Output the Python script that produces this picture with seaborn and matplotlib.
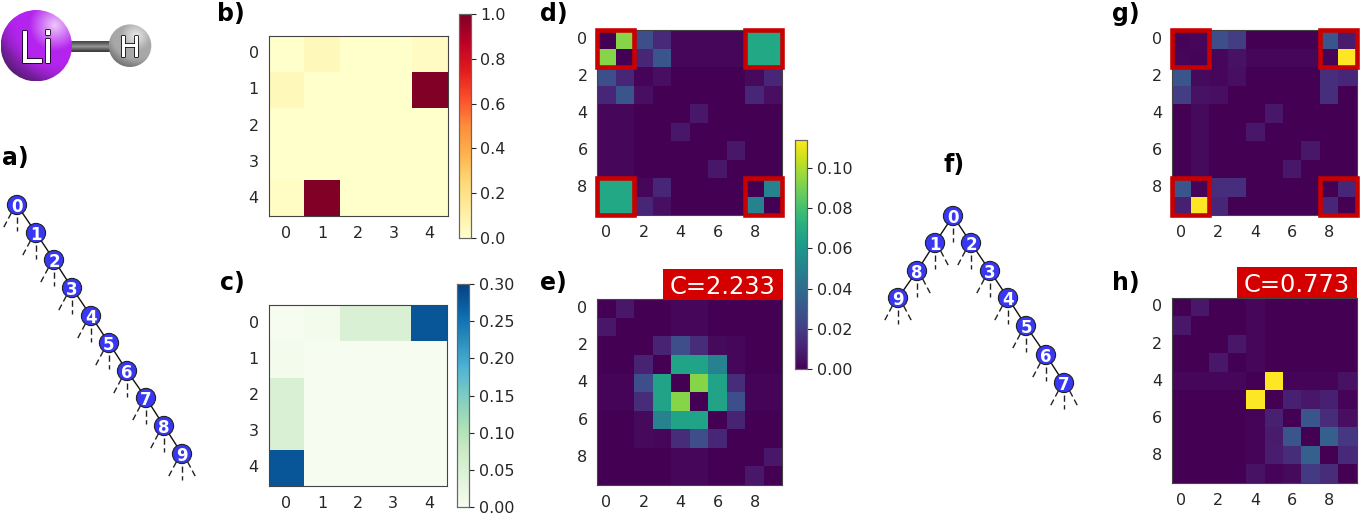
import numpy as np
import matplotlib
matplotlib.use("Agg")
import matplotlib.pyplot as plt
import matplotlib.patheffects as pe
from matplotlib.patches import Circle, Rectangle
import seaborn as sns

W, H = 1365, 525

# panel b / c, 5 orbitals
matrix_b = [
    [0.00, 0.05, 0.00, 0.00, 0.03],
    [0.05, 0.00, 0.00, 0.00, 1.00],
    [0.00, 0.00, 0.00, 0.00, 0.00],
    [0.00, 0.00, 0.00, 0.00, 0.00],
    [0.025, 1.00, 0.00, 0.00, 0.00],
]
matrix_c = [
    [0.000, 0.006, 0.050, 0.050, 0.280],
    [0.006, 0.000, 0.002, 0.002, 0.001],
    [0.050, 0.001, 0.002, 0.002, 0.001],
    [0.050, 0.001, 0.002, 0.002, 0.001],
    [0.280, 0.000, 0.002, 0.002, 0.001],
]

# panels d, e, g, h, 10 orbitals
matrix_d = [
    [0.000, 0.093, 0.027, 0.013, 0.002, 0.002, 0.002, 0.002, 0.068, 0.068],
    [0.093, 0.000, 0.012, 0.030, 0.002, 0.002, 0.002, 0.002, 0.068, 0.068],
    [0.027, 0.012, 0.001, 0.004, 0.000, 0.000, 0.000, 0.000, 0.003, 0.012],
    [0.012, 0.030, 0.004, 0.000, 0.000, 0.000, 0.000, 0.000, 0.012, 0.004],
    [0.002, 0.002, 0.000, 0.000, 0.000, 0.007, 0.000, 0.000, 0.000, 0.000],
    [0.002, 0.002, 0.000, 0.000, 0.007, 0.000, 0.000, 0.000, 0.000, 0.000],
    [0.002, 0.002, 0.000, 0.000, 0.000, 0.000, 0.000, 0.007, 0.000, 0.000],
    [0.002, 0.002, 0.000, 0.000, 0.000, 0.000, 0.007, 0.000, 0.000, 0.000],
    [0.068, 0.068, 0.002, 0.012, 0.000, 0.000, 0.000, 0.000, 0.000, 0.050],
    [0.068, 0.068, 0.012, 0.004, 0.000, 0.000, 0.000, 0.000, 0.050, 0.000],
]
matrix_e = [
    [0.000, 0.007, 0.000, 0.000, 0.002, 0.002, 0.000, 0.000, 0.000, 0.000],
    [0.007, 0.000, 0.000, 0.000, 0.002, 0.002, 0.000, 0.000, 0.000, 0.000],
    [0.000, 0.000, 0.000, 0.011, 0.027, 0.014, 0.003, 0.002, 0.000, 0.000],
    [0.000, 0.000, 0.011, 0.000, 0.066, 0.066, 0.050, 0.002, 0.000, 0.000],
    [0.001, 0.001, 0.027, 0.066, 0.000, 0.093, 0.066, 0.014, 0.001, 0.001],
    [0.001, 0.001, 0.014, 0.066, 0.093, 0.000, 0.066, 0.027, 0.001, 0.001],
    [0.000, 0.000, 0.003, 0.050, 0.066, 0.066, 0.000, 0.011, 0.000, 0.000],
    [0.000, 0.000, 0.003, 0.002, 0.014, 0.027, 0.012, 0.000, 0.000, 0.000],
    [0.000, 0.000, 0.000, 0.000, 0.002, 0.002, 0.000, 0.000, 0.000, 0.007],
    [0.000, 0.000, 0.000, 0.000, 0.002, 0.002, 0.000, 0.000, 0.007, 0.000],
]
matrix_g = [
    [0.001, 0.002, 0.027, 0.020, 0.000, 0.000, 0.000, 0.000, 0.030, 0.008],
    [0.002, 0.001, 0.002, 0.005, 0.002, 0.002, 0.002, 0.002, 0.001, 0.114],
    [0.030, 0.003, 0.002, 0.004, 0.000, 0.000, 0.000, 0.000, 0.015, 0.012],
    [0.020, 0.005, 0.004, 0.000, 0.000, 0.000, 0.000, 0.000, 0.015, 0.000],
    [0.000, 0.003, 0.000, 0.000, 0.000, 0.007, 0.000, 0.000, 0.000, 0.000],
    [0.000, 0.003, 0.000, 0.000, 0.007, 0.000, 0.000, 0.000, 0.000, 0.000],
    [0.000, 0.003, 0.000, 0.000, 0.000, 0.000, 0.000, 0.007, 0.000, 0.000],
    [0.000, 0.003, 0.000, 0.000, 0.000, 0.000, 0.007, 0.000, 0.000, 0.000],
    [0.030, 0.001, 0.015, 0.015, 0.000, 0.000, 0.000, 0.000, 0.000, 0.012],
    [0.010, 0.114, 0.012, 0.000, 0.000, 0.000, 0.000, 0.000, 0.012, 0.000],
]
matrix_h = [
    [0.000, 0.007, 0.000, 0.000, 0.002, 0.000, 0.000, 0.000, 0.000, 0.000],
    [0.007, 0.000, 0.000, 0.000, 0.002, 0.000, 0.000, 0.000, 0.000, 0.000],
    [0.000, 0.000, 0.000, 0.007, 0.002, 0.000, 0.000, 0.000, 0.000, 0.000],
    [0.000, 0.000, 0.007, 0.000, 0.002, 0.000, 0.000, 0.000, 0.000, 0.000],
    [0.002, 0.002, 0.002, 0.002, 0.000, 0.114, 0.001, 0.001, 0.001, 0.005],
    [0.000, 0.000, 0.000, 0.000, 0.114, 0.000, 0.010, 0.007, 0.010, 0.001],
    [0.000, 0.000, 0.000, 0.000, 0.001, 0.010, 0.000, 0.030, 0.014, 0.004],
    [0.000, 0.000, 0.000, 0.000, 0.001, 0.008, 0.030, 0.000, 0.034, 0.018],
    [0.000, 0.000, 0.000, 0.000, 0.001, 0.009, 0.014, 0.034, 0.000, 0.013],
    [0.000, 0.000, 0.000, 0.000, 0.005, 0.001, 0.003, 0.019, 0.014, 0.000],
]

viridis_max = 0.1137
block_d_g = [(0, 0), (8, 0), (0, 8), (8, 8)]

ticks_b = [0.0, 0.2, 0.4, 0.6, 0.8, 1.0]
ticks_c = [0.00, 0.05, 0.10, 0.15, 0.20, 0.25, 0.30]
ticks_v = [0.00, 0.02, 0.04, 0.06, 0.08, 0.10]

# tree diagrams, node label -> pixel position and which dashes hang off it
tree_a = {0: (17, 205), 1: (36, 233), 2: (54, 260), 3: (72, 288), 4: (91, 316),
          5: (109, 343), 6: (127, 371), 7: (146, 398), 8: (164, 426), 9: (182, 454)}
edges_a = [(i, i + 1) for i in range(9)]
dashes_a = {i: "ld" for i in range(9)}
dashes_a[9] = "ldr"

tree_f = {0: (953, 216), 1: (935, 243), 2: (971, 243), 8: (917, 271), 9: (898, 298),
          3: (990, 271), 4: (1008, 298), 5: (1026, 326), 6: (1046, 355), 7: (1064, 383)}
edges_f = [(0, 1), (0, 2), (1, 8), (8, 9), (2, 3), (3, 4), (4, 5), (5, 6), (6, 7)]
dashes_f = {0: "d", 1: "dr", 2: "ld", 8: "dr", 9: "ldr", 3: "ld", 4: "ld", 5: "ld",
            6: "ld", 7: "ldr"}

panel_labels = [("a)", 2, 158), ("b)", 217, 14), ("c)", 220, 283), ("d)", 540, 14),
                ("e)", 540, 283), ("f)", 943, 165), ("g)", 1112, 14), ("h)", 1112, 283)]

TEXT = "#262626"
TICK_SIZE = 11.5


def px_axes(fig, x0, y0, x1, y1):
    """Axes from pixel box, y measured from the top."""
    return fig.add_axes([x0 / W, 1 - y1 / H, (x1 - x0) / W, (y1 - y0) / H])


def draw_matrix(fig, box, matrix, cmap, vmax, cbar_ax=None, cbar_ticks=None, fmt=None, step=1):
    ax = px_axes(fig, *box)
    n = len(matrix)
    kws = {"ticks": cbar_ticks, "format": fmt} if cbar_ax is not None else None
    sns.heatmap(np.array(matrix), ax=ax, cmap=cmap, vmin=0, vmax=vmax,
                cbar=cbar_ax is not None, cbar_ax=cbar_ax, cbar_kws=kws)
    pos = np.arange(0, n, step)
    ax.set_xticks(pos + 0.5, [str(p) for p in pos], rotation=0)
    ax.set_yticks(pos + 0.5, [str(p) for p in pos], rotation=0)
    ax.tick_params(labelsize=TICK_SIZE, length=3.5, width=0.8, labelcolor=TEXT, color=TEXT)
    for s in ax.spines.values():
        s.set_visible(True)
        s.set_linewidth(0.8)
        s.set_edgecolor("#444444")
    if cbar_ax is not None:
        cbar_ax.tick_params(labelsize=TICK_SIZE, length=3.5, width=0.8, labelcolor=TEXT, color=TEXT)
        for s in cbar_ax.spines.values():
            s.set_visible(True)
            s.set_linewidth(0.8)
            s.set_edgecolor("#666666")
    return ax


def add_blocks(ax):
    for x, y in block_d_g:
        ax.add_patch(Rectangle((x, y), 2, 2, fill=False, ec="#c80000", lw=3.3,
                               clip_on=False, zorder=5))


def sphere(ov, cx, cy, r, hx, hy, light, base, dark):
    """Shaded ball, hx/hy is the highlight offset in radius units."""
    g = np.linspace(-1, 1, 200)
    xx, yy = np.meshgrid(g, g)
    d = np.hypot(xx - hx, yy - hy) / 1.3
    light, base, dark = [np.array(matplotlib.colors.to_rgb(c)) for c in (light, base, dark)]
    t1 = np.clip(d / 0.55, 0, 1)[..., None]
    t2 = np.clip((d - 0.8) / 0.55, 0, 1)[..., None]
    # dark side sits opposite the highlight
    side = np.clip((-(xx * hx + yy * hy) / np.hypot(hx, hy) + 0.2) / 0.9, 0, 1)[..., None]
    img = light * (1 - t1) + base * t1
    img = img * (1 - t2 * side) + dark * (t2 * side)
    im = ov.imshow(img, extent=(cx - r, cx + r, cy + r, cy - r), aspect="auto",
                   interpolation="bilinear", zorder=3)
    im.set_clip_path(Circle((cx, cy), r, transform=ov.transData))


def draw_tree(ov, nodes, edges, dashes):
    offs = {"l": (-5.7, 8, -14.7, 25), "d": (0, 12, 0, 26), "r": (5.7, 8, 14.7, 25)}
    for label, (x, y) in nodes.items():
        for k in dashes[label]:
            a, b, c, d = offs[k]
            ov.plot([x + a, x + c], [y + b, y + d], color="#222222", lw=1.0,
                    dashes=(4.5, 2.5), zorder=2)
    for i, j in edges:
        ov.plot([nodes[i][0], nodes[j][0]], [nodes[i][1], nodes[j][1]], color="#111111",
                lw=1.0, zorder=2)
    for label, (x, y) in nodes.items():
        ov.add_patch(Circle((x, y), 9.6, fc="#3838f4", ec="#222222", lw=0.8, zorder=3))
        ov.text(x, y, str(label), color="white", fontsize=12, fontweight="bold",
                ha="center", va="center_baseline", zorder=4)


def main():
    sns.set_style("white")
    plt.rcParams["font.family"] = ["DejaVu Sans"]
    fig = plt.figure(figsize=(W / 100, H / 100), dpi=100)

    draw_matrix(fig, (268.5, 35.7, 447.7, 216.3), matrix_b, "YlOrRd", 1.0,
                px_axes(fig, 458.7, 14, 470.7, 238), ticks_b, "%.1f")
    draw_matrix(fig, (268.5, 305.3, 446.7, 486), matrix_c, "GnBu", 0.30,
                px_axes(fig, 457.3, 284, 469, 507), ticks_c, "%.2f")

    ax_d = draw_matrix(fig, (597.3, 30, 782.3, 215), matrix_d, "viridis", viridis_max,
                       px_axes(fig, 795, 140, 807.3, 369.3), ticks_v, "%.2f", step=2)
    add_blocks(ax_d)
    draw_matrix(fig, (597.3, 299.3, 782.3, 485), matrix_e, "viridis", viridis_max, step=2)
    ax_g = draw_matrix(fig, (1172, 30, 1357, 215), matrix_g, "viridis", viridis_max, step=2)
    add_blocks(ax_g)
    draw_matrix(fig, (1172, 297.7, 1357, 483), matrix_h, "viridis", viridis_max, step=2)

    # everything that is not a heatmap goes on a pixel-coordinate overlay
    ov = fig.add_axes([0, 0, 1, 1], zorder=10)
    ov.patch.set_alpha(0)

    for x0, y0, txt in [(663, 269.3, "C=2.233"), (1237.3, 267.4, "C=0.773")]:
        ov.add_patch(Rectangle((x0, y0), 119.6, 30.2, fc="#d40000", ec="none"))
        ov.text(x0 + 59.8, y0 + 15.5, txt, color="white", fontsize=17.4, ha="center",
                va="center_baseline")

    for txt, x, y in panel_labels:
        ov.text(x, y, txt, fontsize=17, fontweight="bold", color="black", ha="left",
                va="center")

    # LiH molecule
    bond = np.array([[0.3], [0.45], [0.58], [0.42], [0.25]])
    ov.imshow(bond, extent=(70, 112, 52.5, 41.5), aspect="auto", interpolation="bilinear",
              cmap="gray", vmin=0, vmax=1, zorder=2)
    sphere(ov, 36.3, 45.7, 35.7, 0.5, -0.55, "#eec8fb", "#b424ee", "#5a1c78")
    sphere(ov, 130, 45.7, 21.3, 0.25, -0.45, "#ececec", "#a8a8a8", "#585858")
    outline = [pe.withStroke(linewidth=1.1, foreground="black")]
    ov.text(36.3, 46, "Li", fontsize=31, color="white", ha="center", va="center_baseline",
            zorder=4, path_effects=outline)
    ov.text(130, 46, "H", fontsize=21, color="white", ha="center", va="center_baseline",
            zorder=4, path_effects=outline)

    draw_tree(ov, tree_a, edges_a, dashes_a)
    draw_tree(ov, tree_f, edges_f, dashes_f)

    ov.set_xlim(0, W)
    ov.set_ylim(H, 0)
    ov.axis("off")

    fig.savefig("out.png", dpi=100)


if __name__ == "__main__":
    main()
